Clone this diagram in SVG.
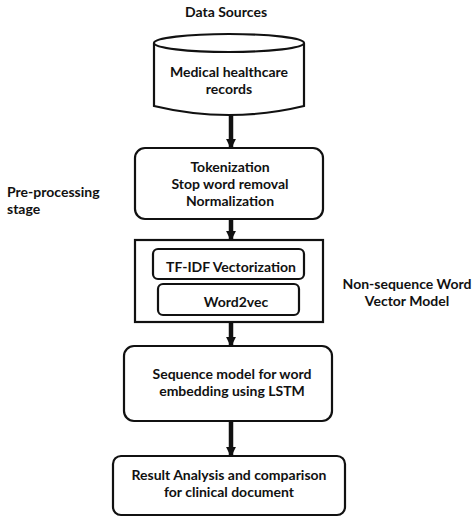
<svg xmlns="http://www.w3.org/2000/svg" width="474" height="523" viewBox="0 0 474 523">
<style>
text{font-family:Lato,"Open Sans","Liberation Sans",sans-serif;font-weight:bold;font-size:14px;fill:#111;text-anchor:middle}
.box{fill:#fff;stroke:#111;stroke-width:2.2}
.conn{stroke:#111;stroke-width:4.5;fill:none;marker-end:url(#ah)}
.lbl{text-anchor:start}
</style>
<defs>
<marker id="ah" viewBox="0 0 10 10" refX="9" refY="5" markerWidth="2.2" markerHeight="2.2" orient="auto" markerUnits="strokeWidth">
<path d="M0,0 L10,5 L0,10 z" fill="#111"/>
</marker>
</defs>
<rect width="474" height="523" fill="#fff"/>
<text x="226" y="17">Data Sources</text>
<g id="data-source">
<path class="box" d="M154,43 L154,106 Q229,124 304,106 L304,43"/>
<ellipse class="box" cx="229" cy="43" rx="75" ry="9"/>
<text x="229" y="77">Medical healthcare</text>
<text x="229" y="94">records</text>
</g>
<g id="connectors">
<line class="conn" x1="231" y1="115" x2="231" y2="148"/>
<line class="conn" x1="231" y1="219" x2="231" y2="240"/>
<line class="conn" x1="231" y1="322" x2="231" y2="346"/>
<line class="conn" x1="231" y1="421" x2="231" y2="456"/>
</g>
<g id="preprocessing">
<rect class="box" x="135" y="148" width="188" height="71" rx="10"/>
<text x="230" y="172">Tokenization</text>
<text x="230" y="189">Stop word removal</text>
<text x="230" y="206">Normalization</text>
</g>
<text class="lbl" x="7" y="197">Pre-processing</text>
<text class="lbl" x="7" y="214">stage</text>
<g id="non-sequence">
<rect class="box" x="135" y="240" width="188" height="82"/>
<g id="tfidf">
<rect class="box" x="153" y="249" width="151" height="30" rx="5"/>
<text x="231" y="272">TF-IDF Vectorization</text>
</g>
<g id="word2vec">
<rect class="box" x="158" y="284" width="141" height="31" rx="5"/>
<text x="236" y="307">Word2vec</text>
</g>
</g>
<text x="407" y="289">Non-sequence Word</text>
<text x="407" y="306">Vector Model</text>
<g id="lstm">
<rect class="box" x="124" y="346" width="208" height="75" rx="10"/>
<text x="232" y="379">Sequence model for word</text>
<text x="232" y="396">embedding using LSTM</text>
</g>
<g id="result">
<rect class="box" x="113" y="456" width="232" height="59" rx="8"/>
<text x="229" y="480">Result Analysis and comparison</text>
<text x="229" y="497">for clinical document</text>
</g>
</svg>
